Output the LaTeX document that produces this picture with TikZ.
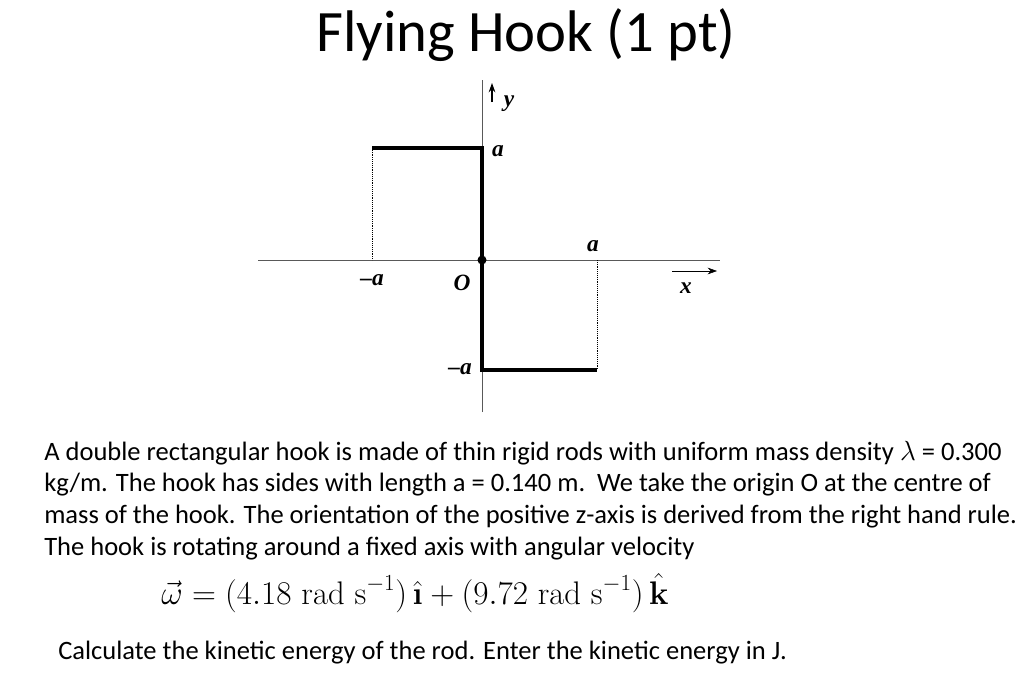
\documentclass[tikz,border=0pt]{standalone}
\usetikzlibrary{arrows.meta}
\usepackage{amsmath}
\usepackage[no-math]{fontspec}
\setmainfont{Carlito}
\newfontfamily\lbl{Liberation Serif}
\newfontfamily\lmr{Latin Modern Roman}
\begin{document}
\begin{tikzpicture}[x=0.75pt,y=-0.75pt,
  lab/.style={font=\lbl\bfseries\itshape\fontsize{17.5}{17.5}\selectfont,inner sep=0},
  txt/.style={font=\fontsize{19.9}{22}\selectfont,anchor=west,inner sep=0}]
\useasboundingbox (0,0) rectangle (1024,682);
\node[font=\fontsize{44}{48}\selectfont] (title) at (526,35) {Flying Hook (1 pt)};
\coordinate (yb) at (482,412); \coordinate (yt) at (482,80);
\draw[gray!70!black,thin] (yb) -- (yt);
\coordinate (xl) at (258,260); \coordinate (xr) at (720,260);
\draw[gray!70!black,thin] (xl) -- (xr);
\coordinate (ya) at (492,102); \coordinate (yh) at (492,83);
\draw[-{Stealth[length=7pt,width=5pt]},thick] (ya) -- (yh);
\node[lab] (ylab) at (509,104) {y};
\coordinate (xa) at (672,271); \coordinate (xh) at (717,271);
\draw[-{Stealth[length=7pt,width=5pt]}] (xa) -- (xh);
\node[lab] (xlab) at (686,288) {x};
\coordinate (p1) at (372,148); \coordinate (p2) at (482,148);
\coordinate (p3) at (482,370); \coordinate (p4) at (597,370);
\coordinate (q1) at (372,260); \coordinate (q2) at (597,260);
\draw[line width=3.2pt] (p1) -- (p2) -- (p3) -- (p4);
\draw[densely dotted,thin] (p1) -- (q1);
\draw[densely dotted,thin] (q2) -- (p4);
\fill (482,260) circle (4.5);
\node[lab] (a1) at (498,151) {a};
\node[lab] (a2) at (593,246) {a};
\node[lab] (ma) at (372,280) {–a};
\node[lab] (o) at (462,283) {O};
\node[lab] (mb) at (460,369) {–a};
\node[txt] (l1) at (44,453) {A double rectangular hook is made of thin rigid rods with uniform mass density $\lambda$ = 0.300};
\node[txt] (l2) at (44,485) {kg/m. The hook has sides with length a = 0.140 m.\ \ We take the origin O at the centre of};
\node[txt] (l3) at (44,517) {mass of the hook. The orientation of the positive z-axis is derived from the right hand rule.};
\node[txt] (l4) at (44,549) {The hook is rotating around a fixed axis with angular velocity};
\node[font=\lmr\fontsize{24.5}{26}\selectfont,inner sep=0] (eq) at (415,593)
 {$\vec{\omega} = (4.18\ \text{\lmr rad s}^{-1})\,\hat{\text{\lmr\bfseries\i}} + (9.72\ \text{\lmr rad s}^{-1})\,\hat{\text{\lmr\bfseries k}}$};
\node[txt] (l5) at (58,653) {Calculate the kinetic energy of the rod. Enter the kinetic energy in J.};
\end{tikzpicture}
\end{document}
